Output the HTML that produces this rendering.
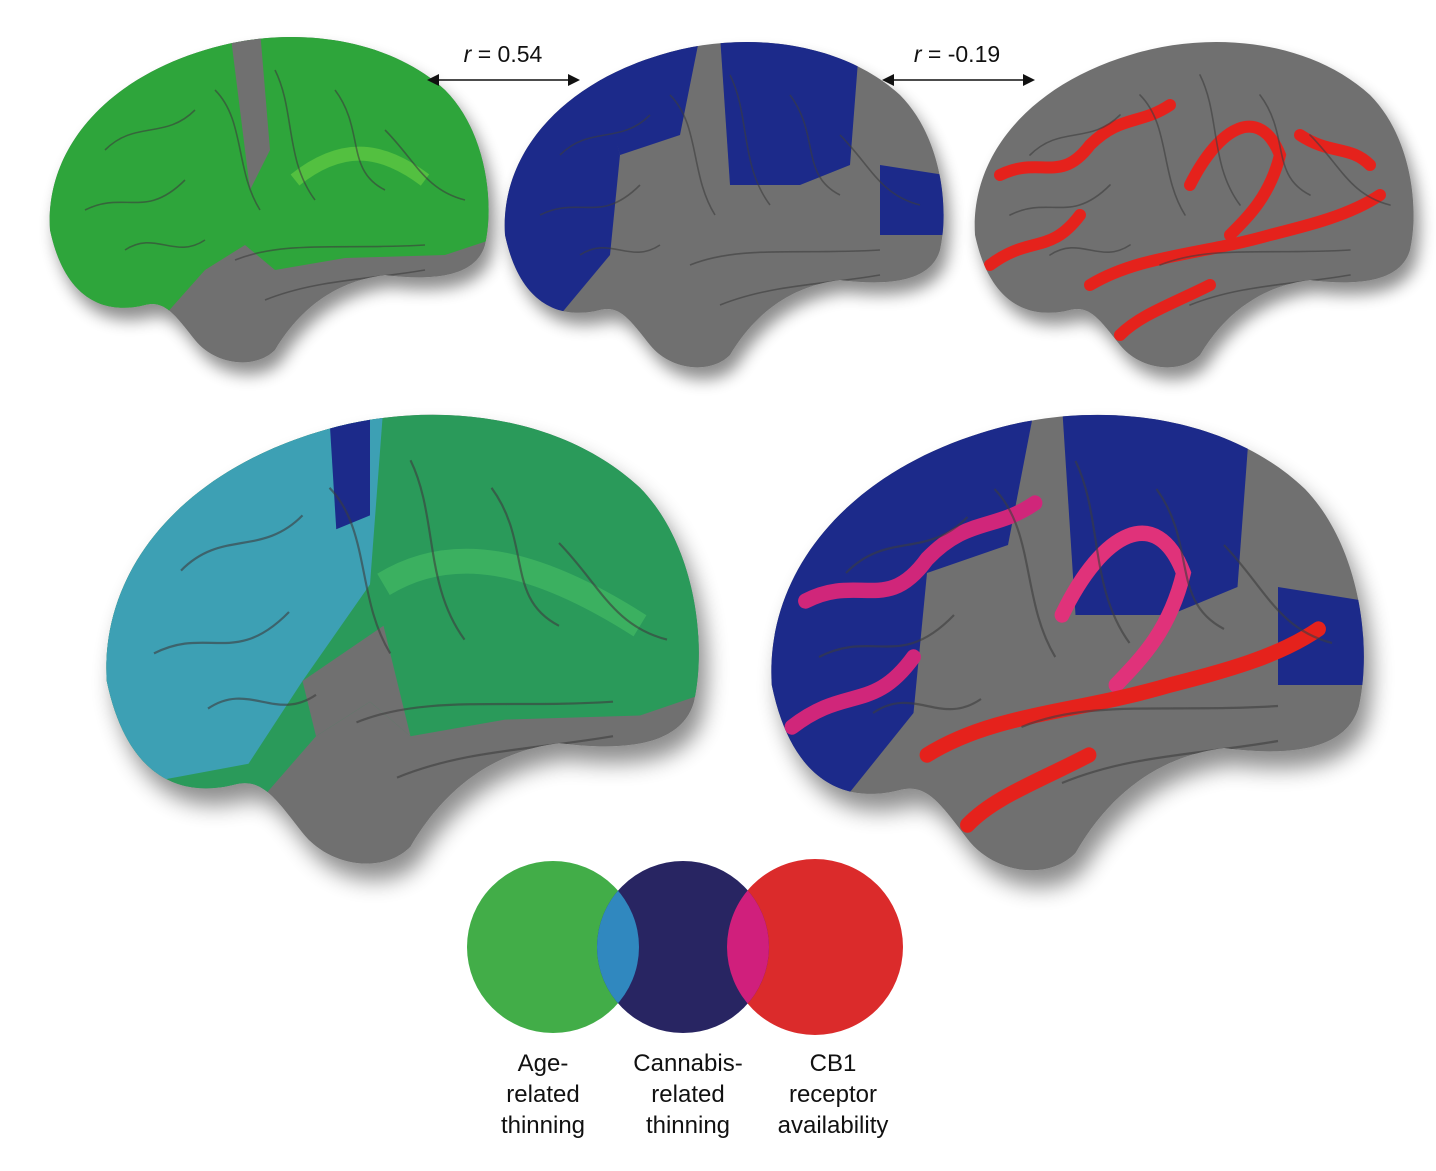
<!DOCTYPE html>
<html><head><meta charset="utf-8"><style>
html,body{margin:0;padding:0;background:#fff;}
svg{display:block}
text{font-family:"Liberation Sans",sans-serif;fill:#111}
</style></head><body>
<svg width="1436" height="1171" viewBox="0 0 1436 1171" xmlns="http://www.w3.org/2000/svg">
<defs>
<path id="b" d="M 5 200 C 0 120 60 50 160 20 C 240 -5 340 5 400 60 C 440 100 450 170 440 215 C 430 250 380 250 340 245 C 300 250 260 270 230 320 C 210 340 170 335 150 310 C 130 285 120 270 100 275 C 60 285 20 270 5 200 Z"/>
<clipPath id="bc"><use href="#b"/></clipPath>
<filter id="sh" x="-10%" y="-10%" width="130%" height="130%"><feGaussianBlur in="SourceAlpha" stdDeviation="8"/><feOffset dx="6" dy="12"/><feComponentTransfer><feFuncA type="linear" slope="0.45"/></feComponentTransfer><feMerge><feMergeNode/><feMergeNode in="SourceGraphic"/></feMerge></filter>
<g id="sulci" fill="none" stroke="#3c3c3c" stroke-width="1.6" opacity="0.6">
<path d="M60 120 C90 90 120 110 150 80 M40 180 C80 160 100 190 140 150 M170 60 C200 90 190 140 215 180 M230 40 C250 80 240 130 270 170 M290 60 C320 100 300 140 340 160 M340 100 C370 130 380 160 420 170 M190 230 C240 210 300 220 380 215 M220 270 C270 250 320 250 380 240 M80 220 C110 200 130 230 160 210"/>
</g>
<clipPath id="cg"><circle cx="553" cy="947" r="86"/></clipPath>
<clipPath id="cr"><circle cx="815" cy="947" r="88"/></clipPath>
</defs>

<!-- Top-left green -->
<g transform="translate(45,30)" filter="url(#sh)">
<use href="#b" fill="#707070"/>
<g clip-path="url(#bc)">
<path d="M0 0 H445 V210 L400 225 L300 228 L230 240 L200 215 L160 240 L120 285 L0 285 Z" fill="#2fa53a"/>
<path d="M185 0 L215 0 L225 120 L205 160 Z" fill="#707070"/>
<path d="M250 150 C300 110 340 120 380 150" stroke="#52c040" stroke-width="14" fill="none"/>
<use href="#sulci"/>
</g></g>

<!-- Top-middle blue -->
<g transform="translate(500,35)" filter="url(#sh)">
<use href="#b" fill="#707070"/>
<g clip-path="url(#bc)">
<path d="M0 0 H90 L120 120 L110 220 L60 280 L0 280 Z" fill="#1c2a8a"/>
<path d="M90 10 L200 0 L180 100 L120 120 Z" fill="#1c2a8a"/>
<path d="M220 0 H360 L350 130 L300 150 L230 150 Z" fill="#1c2a8a"/>
<path d="M380 130 L445 140 V200 L380 200 Z" fill="#1c2a8a"/>
<use href="#sulci"/>
</g></g>

<!-- Top-right red -->
<g transform="translate(970,35)" filter="url(#sh)">
<use href="#b" fill="#707070"/>
<g clip-path="url(#bc)" fill="none" stroke="#e5231f" stroke-width="12" stroke-linecap="round">
<path d="M30 140 C70 120 90 150 120 110 C150 80 170 90 200 70"/>
<path d="M20 230 C60 200 80 220 110 180 M220 150 C250 90 290 70 310 120 C300 160 280 180 260 200"/>
<path d="M120 250 C170 220 230 220 300 200 C340 190 380 180 410 160"/>
<path d="M150 300 C170 280 200 270 240 250 M330 100 C360 120 380 110 400 130"/>
<use href="#sulci"/>
</g></g>

<!-- Bottom-left cyan/green -->
<g transform="translate(100,405) scale(1.35,1.38)" filter="url(#sh)">
<use href="#b" fill="#707070"/>
<g clip-path="url(#bc)">
<path d="M0 0 H445 V210 L400 225 L300 228 L230 240 L200 215 L160 240 L120 285 L0 285 Z" fill="#2a9a5a"/>
<path d="M0 0 H210 L200 130 L150 200 L110 260 L0 280 Z" fill="#3ca0b4"/>
<path d="M210 130 C260 100 320 110 400 160" stroke="#3ab060" stroke-width="18" fill="none"/>
<path d="M170 10 L200 0 L200 80 L175 90 Z" fill="#1c2a8a"/>
<path d="M150 200 L210 160 L230 240 L200 215 L160 240 Z" fill="#707070"/>
<use href="#sulci"/>
</g></g>

<!-- Bottom-right blue/red/magenta -->
<g transform="translate(765,405) scale(1.35,1.4)" filter="url(#sh)">
<use href="#b" fill="#707070"/>
<g clip-path="url(#bc)">
<path d="M0 0 H90 L120 120 L110 220 L60 280 L0 280 Z" fill="#1c2a8a"/>
<path d="M90 10 L200 0 L180 100 L120 120 Z" fill="#1c2a8a"/>
<path d="M220 0 H360 L350 130 L300 150 L230 150 Z" fill="#1c2a8a"/>
<path d="M380 130 L445 140 V200 L380 200 Z" fill="#1c2a8a"/>
<g fill="none" stroke-width="11" stroke-linecap="round">
<path d="M30 140 C70 120 90 150 120 110 C150 80 170 90 200 70" stroke="#d0287a"/>
<path d="M20 230 C60 200 80 220 110 180" stroke="#d0287a"/>
<path d="M220 150 C250 90 290 70 310 120 C300 160 280 180 260 200" stroke="#e0307a"/>
<path d="M120 250 C170 220 230 220 300 200 C340 190 380 180 410 160" stroke="#e5231f"/>
<path d="M150 300 C170 280 200 270 240 250" stroke="#e5231f"/>
</g>
<use href="#sulci"/>
</g></g>

<!-- arrows -->
<text x="503" y="62" font-size="23" text-anchor="middle"><tspan font-style="italic">r</tspan> = 0.54</text>
<line x1="432" y1="80" x2="575" y2="80" stroke="#111" stroke-width="1.6"/>
<path d="M427 80 L439 74 L439 86 Z M580 80 L568 74 L568 86 Z" fill="#111"/>
<text x="957" y="62" font-size="23" text-anchor="middle"><tspan font-style="italic">r</tspan> = -0.19</text>
<line x1="887" y1="80" x2="1030" y2="80" stroke="#111" stroke-width="1.6"/>
<path d="M882 80 L894 74 L894 86 Z M1035 80 L1023 74 L1023 86 Z" fill="#111"/>

<!-- Venn -->
<circle cx="553" cy="947" r="86" fill="#42ad48"/>
<circle cx="815" cy="947" r="88" fill="#db2b2b"/>
<circle cx="683" cy="947" r="86" fill="#282562"/>
<circle cx="683" cy="947" r="86" fill="#3088bf" clip-path="url(#cg)"/>
<circle cx="683" cy="947" r="86" fill="#d01f7c" clip-path="url(#cr)"/>

<g font-size="24" text-anchor="middle">
<text x="543" y="1071">Age-</text><text x="543" y="1102">related</text><text x="543" y="1133">thinning</text>
<text x="688" y="1071">Cannabis-</text><text x="688" y="1102">related</text><text x="688" y="1133">thinning</text>
<text x="833" y="1071">CB1</text><text x="833" y="1102">receptor</text><text x="833" y="1133">availability</text>
</g>
</svg>
</body></html>
